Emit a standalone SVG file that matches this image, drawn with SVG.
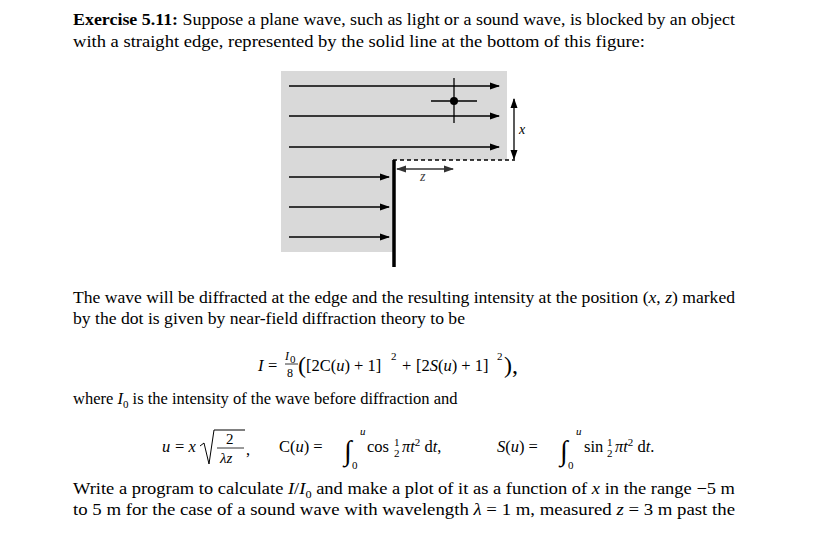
<svg xmlns="http://www.w3.org/2000/svg" width="816" height="537" viewBox="0 0 816 537">
<style>
text{font-family:"Liberation Serif","DejaVu Serif",serif;font-size:16.5px;fill:#000}
.i{font-style:italic}
.s{font-size:11px}
.m{font-size:12px}
.big{font-size:24px}
.int{font-size:28px}
.lab{font-size:14px}
.a{stroke:#000;stroke-width:1.3;fill:none}
</style>
<defs>
<marker id="h" markerWidth="10" markerHeight="8" refX="9" refY="4" orient="auto-start-reverse" markerUnits="userSpaceOnUse"><path d="M0,0.5L10,4L0,7.5z" fill="#000"/></marker>
<marker id="g" markerWidth="10" markerHeight="8" refX="9" refY="4" orient="auto-start-reverse" markerUnits="userSpaceOnUse"><path d="M0,0.5L10,4L0,7.5z" fill="#333"/></marker>
</defs>
<rect width="816" height="537" fill="#fff"/>
<text x="73" y="25" textLength="662" lengthAdjust="spacingAndGlyphs"><tspan font-weight="bold">Exercise 5.11:</tspan> Suppose a plane wave, such as light or a sound wave, is blocked by an object</text>
<text x="73" y="47" textLength="572" lengthAdjust="spacingAndGlyphs">with a straight edge, represented by the solid line at the bottom of this figure:</text>
<g id="figure">
<path d="M281,71H507V160H393V252H281Z" fill="#d9d9d9"/>
<g id="arrows">
<line class="a" x1="289" y1="86" x2="499" y2="86" marker-end="url(#h)"/>
<line class="a" x1="289" y1="116" x2="499" y2="116" marker-end="url(#h)"/>
<line class="a" x1="289" y1="147" x2="499" y2="147" marker-end="url(#h)"/>
<line class="a" x1="289" y1="177" x2="389" y2="177" marker-end="url(#h)"/>
<line class="a" x1="289" y1="207" x2="389" y2="207" marker-end="url(#h)"/>
<line class="a" x1="289" y1="237" x2="389" y2="237" marker-end="url(#h)"/>
<line class="a" x1="514" y1="99" x2="514" y2="159" marker-start="url(#h)" marker-end="url(#h)"/>
<line x1="397" y1="169" x2="453" y2="169" stroke="#333" stroke-width="1.3" marker-start="url(#g)" marker-end="url(#g)"/>
</g>
<line x1="393" y1="160" x2="515" y2="160" stroke="#000" stroke-width="1.3" stroke-dasharray="4,3"/>
<line x1="394" y1="160" x2="394" y2="267" stroke="#000" stroke-width="3.5"/>
<line class="a" x1="431" y1="101" x2="477" y2="101"/>
<line class="a" x1="454" y1="78" x2="454" y2="123"/>
<circle cx="454" cy="101" r="4" fill="#000"/>
<text class="i lab" x="519" y="134">x</text>
<text class="i lab" x="420" y="181" style="fill:#444">z</text>
</g>
<text x="73" y="303" textLength="662" lengthAdjust="spacingAndGlyphs">The wave will be diffracted at the edge and the resulting intensity at the position (<tspan class="i">x</tspan>, <tspan class="i">z</tspan>) marked</text>
<text x="73" y="324" textLength="392" lengthAdjust="spacingAndGlyphs">by the dot is given by near-field diffraction theory to be</text>
<g id="eq1">
<text class="i" x="258" y="371">I</text>
<text x="268" y="371">=</text>
<text class="i m" x="285" y="360">I</text><text class="s" x="290" y="363">0</text>
<line x1="285" y1="364" x2="298" y2="364" stroke="#000" stroke-width="0.8"/>
<text class="m" x="287" y="377">8</text>
<text class="big" x="298" y="373">(</text>
<text x="306" y="371">[2C(<tspan class="i">u</tspan>) + 1]</text>
<text class="s" x="391" y="360">2</text>
<text x="402" y="371">+</text>
<text x="416" y="371">[2<tspan class="i">S</tspan>(<tspan class="i">u</tspan>) + 1]</text>
<text class="s" x="497" y="360">2</text>
<text class="big" x="504" y="373">),</text>
</g>
<text x="73" y="404">where <tspan class="i">I</tspan><tspan class="s" dy="4">0</tspan><tspan dy="-4"> is the intensity of the wave before diffraction and</tspan></text>
<g id="eq2">
<text class="i" x="162" y="452">u</text><text x="175" y="452">= <tspan class="i">x</tspan></text>
<path d="M200,446L204,443L209,464L214,430H245" stroke="#000" stroke-width="1" fill="none"/>
<text x="226" y="444" style="font-size:15px">2</text>
<line x1="217" y1="448" x2="244" y2="448" stroke="#000" stroke-width="0.8"/>
<text class="i" x="220" y="463" style="font-size:15px">λz</text>
<text x="246" y="455">,</text>
<text x="279" y="452">C(<tspan class="i">u</tspan>) =</text>
<text class="int" x="344" y="460">∫</text>
<text class="i s" x="360" y="435">u</text><text class="s" x="352" y="469">0</text>
<text x="367" y="452">cos</text>
<text class="s" x="394" y="446">1</text><text class="s" x="394" y="457">2</text>
<text x="402" y="452"><tspan class="i">πt</tspan><tspan class="s" dy="-6">2</tspan><tspan dy="6"> d<tspan class="i">t</tspan>,</tspan></text>
<text x="497" y="452"><tspan class="i">S</tspan>(<tspan class="i">u</tspan>) =</text>
<text class="int" x="560" y="460">∫</text>
<text class="i s" x="576" y="435">u</text><text class="s" x="568" y="469">0</text>
<text x="584" y="452">sin</text>
<text class="s" x="607" y="446">1</text><text class="s" x="607" y="457">2</text>
<text x="615" y="452"><tspan class="i">πt</tspan><tspan class="s" dy="-6">2</tspan><tspan dy="6"> d<tspan class="i">t</tspan>.</tspan></text>
</g>
<text x="73" y="494" textLength="662" lengthAdjust="spacingAndGlyphs">Write a program to calculate <tspan class="i">I</tspan>/<tspan class="i">I</tspan><tspan class="s" dy="4">0</tspan><tspan dy="-4"> and make a plot of it as a function of </tspan><tspan class="i">x</tspan> in the range −5 m</text>
<text x="73" y="515" textLength="662" lengthAdjust="spacingAndGlyphs">to 5 m for the case of a sound wave with wavelength <tspan class="i">λ</tspan> = 1 m, measured <tspan class="i">z</tspan> = 3 m past the</text>
</svg>
